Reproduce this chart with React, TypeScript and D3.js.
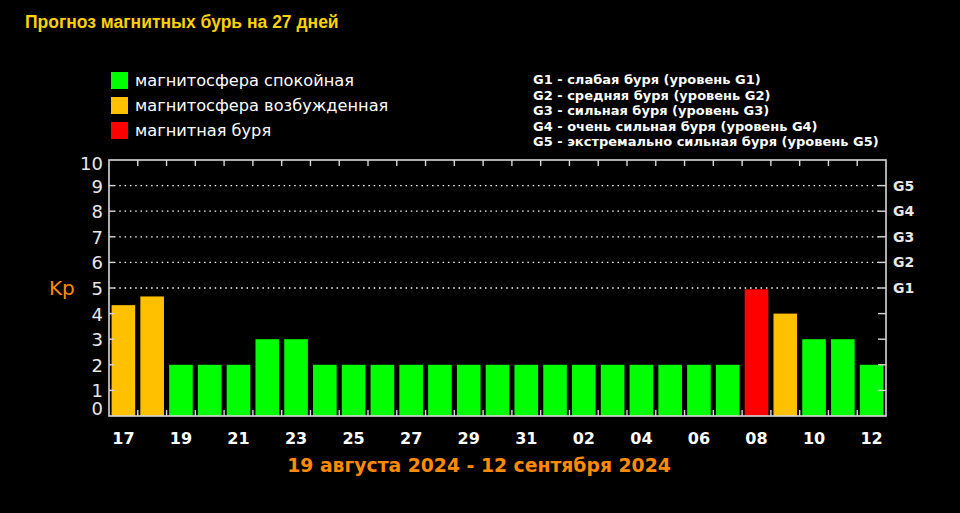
import React from "react";
import * as d3 from "d3";

const days = ["17","18","19","20","21","22","23","24","25","26","27","28","29","30","31","01","02","03","04","05","06","07","08","09","10","11","12"];
const kpValues = [4.33,4.67,2,2,2,3,3,2,2,2,2,2,2,2,2,2,2,2,2,2,2,2,4.95,4,3,3,2];
const levels = ["orange","orange","green","green","green","green","green","green","green","green","green","green","green","green","green","green","green","green","green","green","green","green","red","orange","green","green","green"];
const legendItems = [
  { key: "green", label: "магнитосфера спокойная" },
  { key: "orange", label: "магнитосфера возбужденная" },
  { key: "red", label: "магнитная буря" },
];
const gLevels = ["G1","G2","G3","G4","G5"];
const gLegend = [
  "G1 - слабая буря (уровень G1)",
  "G2 - средняя буря (уровень G2)",
  "G3 - сильная буря (уровень G3)",
  "G4 - очень сильная буря (уровень G4)",
  "G5 - экстремально сильная буря (уровень G5)",
];
const yTicks = [0,1,2,3,4,5,6,7,8,9,10];
const title = "Прогноз магнитных бурь на 27 дней";
const subtitle = "19 августа 2024 - 12 сентября 2024";

const colors: Record<string, string> = { green: "#00ff00", orange: "#ffc000", red: "#ff0000" };

export default function App() {
  const W = 960, H = 513;
  const left = 109, right = 886, top = 160, bottom = 416;
  const x = d3.scaleBand<string>().domain(days).range([left, right]).paddingInner(0.18).paddingOuter(0.09);
  const y = d3.scaleLinear().domain([0, 10]).range([bottom, top]);
  const frameColor = "#d8d8d8";
  const boundaries = d3.range(1, days.length).map((i) => left + i * (right - left) / days.length);

  return (
    <div style={{ position: "fixed", left: 0, top: 0, width: W, height: H, background: "#000" }}>
      <svg width={W} height={H} style={{ display: "block", background: "#000" }}>
        <text x={25} y={28} fill="#ffd200" fontFamily="Liberation Sans, Arial, sans-serif" fontWeight="bold" fontSize={17.5}>{title}</text>

        {legendItems.map((d, i) => (
          <g key={d.key}>
            <rect x={111} y={72 + i * 25} width={17} height={17} fill={colors[d.key]} />
            <text x={135} y={86 + i * 25} fill="#ffffff" fontFamily="DejaVu Sans, Verdana, sans-serif" fontSize={16.2}>{d.label}</text>
          </g>
        ))}

        {gLegend.map((t, i) => (
          <text key={t} x={533} y={84 + i * 15.5} fill="#ffffff" fontFamily="DejaVu Sans, Tahoma, sans-serif" fontWeight="bold" fontSize={13}>{t}</text>
        ))}

        {/* gridlines */}
        {[5,6,7,8,9].map((v) => (
          <line key={v} x1={left + 5} x2={right - 7} y1={y(v)} y2={y(v)} stroke="#ffffff" strokeWidth={1.3} strokeDasharray="1.5,3.8" />
        ))}

        {/* bars */}
        {days.map((d, i) => (
          <rect key={d} x={x(d)} y={y(kpValues[i])} width={x.bandwidth()} height={bottom - y(kpValues[i])} fill={colors[levels[i]]} />
        ))}

        {/* frame */}
        <rect x={left} y={top} width={right - left} height={bottom - top} fill="none" stroke={frameColor} strokeWidth={1.6} />

        {/* x ticks */}
        {boundaries.map((bx, i) => (
          <g key={i}>
            <line x1={bx} x2={bx} y1={top} y2={top + 6} stroke={frameColor} strokeWidth={1.4} />
            <line x1={bx} x2={bx} y1={bottom} y2={bottom - 6} stroke={frameColor} strokeWidth={1.4} />
          </g>
        ))}

        {/* y ticks */}
        {yTicks.slice(1, 10).map((v) => (
          <g key={v}>
            <line x1={left} x2={left + 5} y1={y(v)} y2={y(v)} stroke={frameColor} strokeWidth={1.4} />
            <line x1={right} x2={right - 8} y1={y(v)} y2={y(v)} stroke={frameColor} strokeWidth={1.4} />
          </g>
        ))}

        {/* y labels */}
        {yTicks.map((v) => (
          <text key={v} x={103} y={y(v) + (v === 0 ? -1 : v === 10 ? 10 : 7)} textAnchor="end" fill="#e8e8e8" fontFamily="DejaVu Sans, sans-serif" fontSize={18}>{v}</text>
        ))}

        <text x={49} y={295} fill="#ff8c00" fontFamily="DejaVu Sans, sans-serif" fontSize={20}>Kp</text>

        {/* G labels */}
        {gLevels.map((g, i) => (
          <text key={g} x={893} y={y(5 + i) + 5} fill="#e8e8e8" fontFamily="DejaVu Sans, Tahoma, sans-serif" fontWeight="bold" fontSize={14}>{g}</text>
        ))}

        {/* x labels */}
        {days.map((d, i) => i % 2 === 0 ? (
          <text key={d} x={(x(d) as number) + x.bandwidth() / 2} y={444} textAnchor="middle" fill="#ffffff" fontFamily="DejaVu Sans, Verdana, sans-serif" fontWeight="bold" fontSize={16}>{d}</text>
        ) : null)}

        <text x={479} y={472} textAnchor="middle" fill="#ff8c00" fontFamily="DejaVu Sans, Tahoma, sans-serif" fontWeight="bold" fontSize={18.8}>{subtitle}</text>
      </svg>
    </div>
  );
}
